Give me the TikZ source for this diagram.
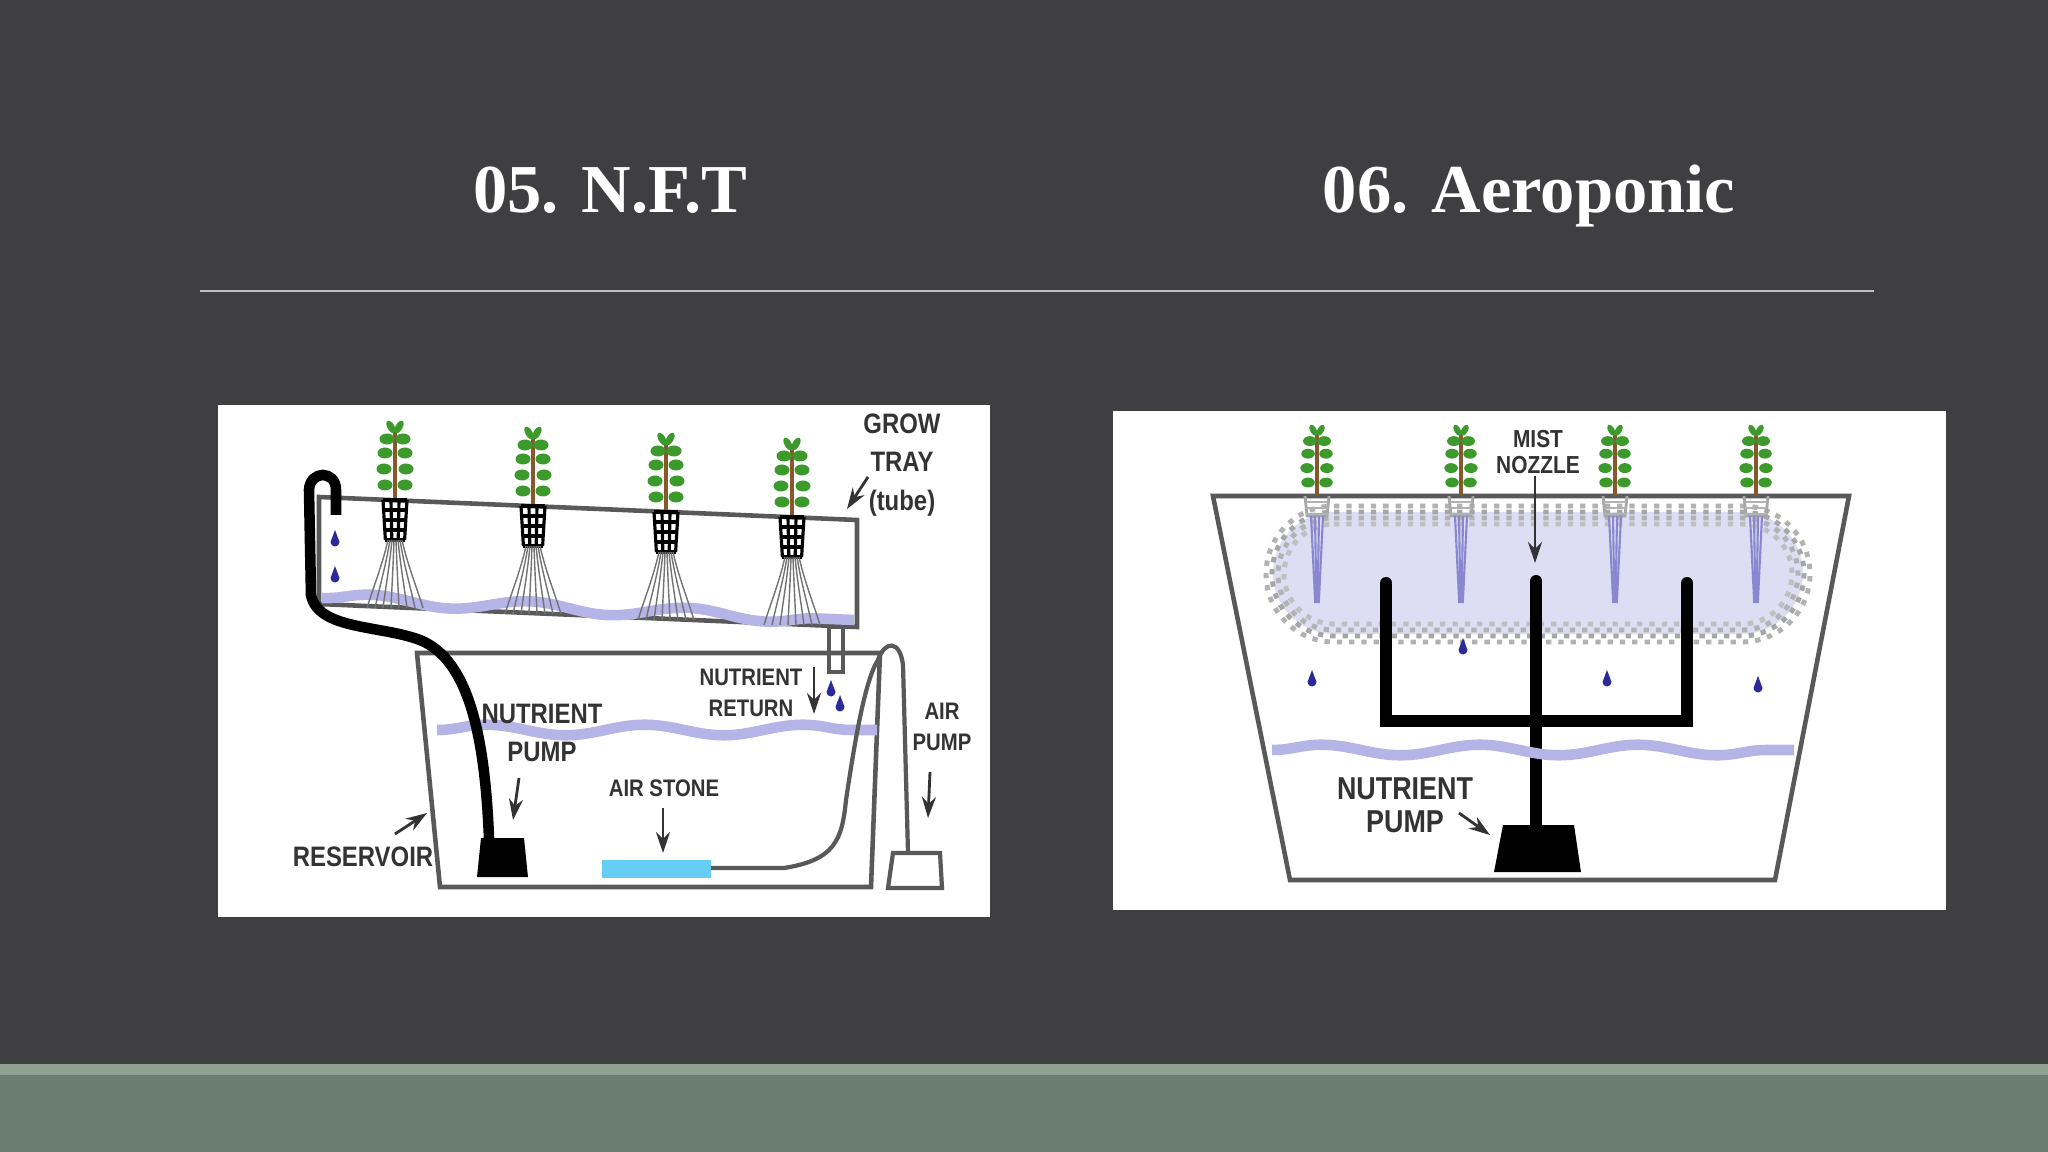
\documentclass[tikz,border=0pt]{standalone}
\usepackage{fontspec}
\setmainfont{Liberation Serif}
\newfontfamily\lab[FakeStretch=0.85]{Liberation Sans}
\usetikzlibrary{decorations.pathmorphing,arrows.meta}
\definecolor{bg}{HTML}{3F3E40}
\definecolor{bandA}{HTML}{8FA08F}
\definecolor{bandB}{HTML}{6B7E6E}
\definecolor{leaf}{HTML}{3C9A2C}
\definecolor{water}{HTML}{B4B4E6}
\definecolor{drop}{HTML}{2A2A9A}
\definecolor{rootc}{HTML}{8A86D0}
\tikzset{
 title/.style={text=white,font=\fontsize{19.5}{22}\selectfont\bfseries,anchor=base},
 lbl/.style={font=\lab\fontsize{6.8}{8.9}\selectfont\bfseries,text=black!80,align=center,inner sep=0pt},
 lblbig/.style={font=\lab\fontsize{8}{11}\selectfont\bfseries,text=black!80,align=center,inner sep=0pt},
 lblmist/.style={font=\lab\fontsize{7}{7.5}\selectfont\bfseries,text=black!80,align=center,inner sep=0pt},
 lblaero/.style={font=\lab\fontsize{9}{9.5}\selectfont\bfseries,text=black!80,align=center,inner sep=0pt},
 arr/.style={-{Stealth[length=6pt,width=4pt]},line width=0.8pt,black!80},
 wall/.style={draw=black!65,line width=1.3pt},
 wave/.style={water,line width=3pt,decorate,decoration={snake,amplitude=1.5pt,segment length=45pt}},
 waterdrop/.style={fill=drop,draw=none},
 plant/.pic={
   \draw[brown!70!black,line width=1.2pt] (0,0) -- (0,-70);
   \foreach \yy/\sx in {-15/10,-31/11,-47/10,-61/8}{
     \fill[leaf] (-\sx,\yy) ellipse [x radius=7.5,y radius=5.5];
     \fill[leaf] (\sx,\yy) ellipse [x radius=7.5,y radius=5.5];}
   \fill[leaf,rotate around={30:(-4,-73)}] (-4,-73) ellipse [x radius=3.5,y radius=7];
   \fill[leaf,rotate around={-30:(4,-73)}] (4,-73) ellipse [x radius=3.5,y radius=7];
 },
 netpot/.pic={
   \foreach \rx in {-12,-4,4,12} \draw[black,line width=0.9pt] (\rx,0) -- (\rx*0.8,40);
   \foreach \ry in {0,10,20,30,40} \draw[black,line width=0.9pt] (-12+\ry*0.06,\ry) -- (12-\ry*0.06,\ry);
   \foreach \i in {-14,-10,-6,-2,2,6,10,14}
     \draw[black!55,line width=0.4pt] (\i*0.5,40) .. controls (\i*0.9,65) and (\i*1.5,85) .. (\i*2.0,108);
 },
 aeropot/.pic={
   \draw[black!35,line width=0.8pt] (-12,0) -- (-10,20) -- (10,20) -- (12,0);
   \foreach \ry in {6,12,18} \draw[black!30,line width=0.6pt] (-11,\ry) -- (11,\ry);
   \foreach \i in {-3,-1,1,3}
     \draw[rootc,line width=0.6pt] (\i*2,20) -- (\i*0.6,107);
 }
}
\begin{document}
\begin{tikzpicture}[x=0.01cm,y=-0.01cm]
\fill[bg] (0,0) rectangle (2048,1152);
\fill[bandA] (0,1064) rectangle (2048,1075);
\fill[bandB] (0,1075) rectangle (2048,1152);
\node[title] (t1) at (610,213) {05. N.F.T};
\node[title] (t2) at (1529,213) {06. Aeroponic};
\draw[black!25,line width=0.8pt] (200,291) -- (1874,291);

% ---------- NFT panel ----------
\fill[white] (218,405) rectangle (990,917);
\draw[wall] (319,497) -- (857,520) -- (857,627) -- (319,604) -- cycle;
\draw[wave] (322,598) -- (854,620);
\draw[black!65,line width=1pt] (829,627) rectangle (843,672);
\draw[wall] (417,653) -- (880,653) -- (871,887) -- (440,887) -- cycle;
\draw[wave] (437,730) -- (877,730);
\foreach \px/\py in {395/500,533/506,666/512,792/517}{
  \pic at (\px,\py) {plant};
  \pic at (\px,\py) {netpot};
}
\fill[black] (481,838) -- (524,838) -- (528,877) -- (477,877) -- cycle;
\draw[black,line width=3pt] (489,838) .. controls (485,740) and (470,660) .. (420,640)
  .. controls (380,625) and (318,630) .. (311,595) -- (309,490)
  .. controls (310,470) and (336,470) .. (336,490) -- (336,515);
\foreach \dx/\dy in {335/542,335/578,831/692,840/707}
  \fill[waterdrop] (\dx,\dy-12) -- (\dx+4.5,\dy) arc (0:180:4.5) -- cycle;
\fill[cyan!60!white] (602,860) rectangle (711,878);
\draw[black!65,line width=1.2pt] (711,868) -- (784,868) .. controls (835,860) and (842,840) .. (846,800)
  .. controls (855,740) and (865,680) .. (878,660)
  .. controls (885,640) and (900,640) .. (903,665) -- (908,853);
\draw[black!65,line width=1.2pt] (893,853) -- (940,853) -- (942,888) -- (888,888) -- cycle;
\node[lblbig] (grow) at (902,465) {GROW\\TRAY\\(tube)};
\coordinate (growA) at (868,477); \coordinate (growB) at (847,509);
\draw[arr] (growA) -- (growB);
\node[lbl] (nr) at (751,693) {NUTRIENT\\RETURN};
\coordinate (nrA) at (814,667); \coordinate (nrB) at (814,714);
\draw[arr] (nrA) -- (nrB);
\node[lblbig] (np) at (542,733) {NUTRIENT\\PUMP};
\coordinate (npA) at (519,778); \coordinate (npB) at (513,820);
\draw[arr] (npA) -- (npB);
\node[lbl] (as) at (664,788) {AIR STONE};
\coordinate (asA) at (663,808); \coordinate (asB) at (663,853);
\draw[arr] (asA) -- (asB);
\node[lbl] (ap) at (942,727) {AIR\\PUMP};
\coordinate (apA) at (930,772); \coordinate (apB) at (928,818);
\draw[arr] (apA) -- (apB);
\node[lblbig] (res) at (363,857) {RESERVOIR};
\coordinate (resA) at (395,834); \coordinate (resB) at (427,813);
\draw[arr] (resA) -- (resB);

% ---------- Aeroponic panel ----------
\fill[white] (1113,411) rectangle (1946,910);
\draw[wall] (1213,496) -- (1849,496) -- (1775,880) -- (1290,880) -- cycle;
\fill[water!45] (1334,512) -- (1742,512) arc[start angle=-90,end angle=90,radius=61]
   -- (1334,634) arc[start angle=90,end angle=270,radius=61] -- cycle;
\foreach \k/\c in {0/30,6/35,12/30,18/25}
  \draw[black!\c,line width=1.4pt,dash pattern=on 1.5pt off 2pt]
    (1334,506+\k) -- (1742,506+\k) arc[start angle=-90,end angle=90,radius=68-\k]
    -- (1334,642-\k) arc[start angle=90,end angle=270,radius=68-\k] -- cycle;
\foreach \px in {1317,1461,1615,1756}{
  \pic[scale=0.9] at (\px,496) {plant};
  \pic at (\px,496) {aeropot};
}
\draw[black,line width=3.5pt] (1386,583) -- (1386,721) -- (1687,721) -- (1687,583);
\draw[black,line width=3.5pt] (1536,581) -- (1536,826);
\foreach \nx/\ny in {1386/583,1536/581,1687/583} \fill[black] (\nx,\ny) circle (6);
\fill[black] (1503,825) -- (1574,825) -- (1581,872) -- (1494,872) -- cycle;
\draw[wave] (1272,750) -- (1794,750);
\foreach \dx/\dy in {1312/682,1463/650,1607/682,1758/688}
  \fill[waterdrop] (\dx,\dy-12) -- (\dx+4.5,\dy) arc (0:180:4.5) -- cycle;
\node[lblmist] (mist) at (1538,452) {MIST\\NOZZLE};
\coordinate (mistA) at (1535,476); \coordinate (mistB) at (1535,563);
\draw[arr] (mistA) -- (mistB);
\node[lblaero] (np2) at (1405,805) {NUTRIENT\\PUMP};
\coordinate (np2A) at (1459,813); \coordinate (np2B) at (1490,835);
\draw[arr] (np2A) -- (np2B);
\end{tikzpicture}
\end{document}
